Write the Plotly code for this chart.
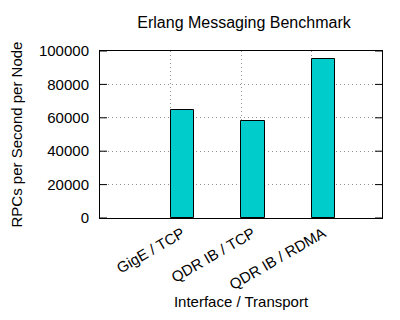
import plotly.graph_objects as go

categories = ["GigE / TCP", "QDR IB / TCP", "QDR IB / RDMA"]
slots = [1, 2, 3]
rpcs = [64700, 58300, 95200]
y_ticks = [0, 20000, 40000, 60000, 80000, 100000]

bar_w = 1 / 3
label_pos = [s + bar_w / 2 for s in slots]

FONT = "Liberation Sans, Arial, sans-serif"
GRID = "#909090"
TF = dict(family=FONT, size=15, color="black")
X_RANGE = [0, 4]
PLOT_W = 282
TICK_LEN = 7

fig = go.Figure()
fig.add_trace(go.Bar(
    x=slots, y=rpcs, width=bar_w, offset=0,
    marker=dict(color="#00cccc", line=dict(color="black", width=1)),
    xaxis="x", yaxis="y", showlegend=False,
))
fig.add_trace(go.Scatter(x=[None], y=[None], xaxis="x2", yaxis="y", showlegend=False))

# inward tick marks on left and right frame edges (gnuplot style)
tl = TICK_LEN / PLOT_W * (X_RANGE[1] - X_RANGE[0])
tx, ty = [], []
for v in y_ticks:
    tx += [X_RANGE[0], X_RANGE[0] + tl, None, X_RANGE[1] - tl, X_RANGE[1], None]
    ty += [v, v, None, v, v, None]
fig.add_trace(go.Scatter(x=tx, y=ty, mode="lines", line=dict(color="black", width=1),
                         hoverinfo="skip", showlegend=False, cliponaxis=False))

fig.update_layout(
    width=400, height=320,
    margin=dict(l=100, r=18, t=51, b=102),
    paper_bgcolor="white", plot_bgcolor="white",
    font=TF,
    title=dict(text="Erlang Messaging Benchmark", x=244 / 400, xanchor="center",
               y=1 - 22 / 320, yanchor="middle",
               font=dict(family=FONT, size=16, color="black")),
    xaxis=dict(range=X_RANGE, tickvals=label_pos, ticktext=categories,
               tickangle=-30, showgrid=False, ticks="", automargin=False,
               tickfont=TF,
               showline=True, linecolor="black", linewidth=1, mirror=True,
               title=dict(text="Interface / Transport", standoff=4, font=TF),
               zeroline=False),
    xaxis2=dict(range=X_RANGE, overlaying="x", tickvals=slots, showticklabels=False,
                showgrid=True, gridcolor=GRID, griddash="1px,3px", gridwidth=1,
                ticks="", showline=False, zeroline=False, automargin=False),
    yaxis=dict(range=[0, 100000], tickvals=y_ticks, ticks="",
               showline=True, linecolor="black", linewidth=1,
               mirror=True, showgrid=True, gridcolor=GRID, griddash="1px,3px",
               zeroline=False, tickformat="d", automargin=False,
               ticklabelstandoff=7,
               tickfont=TF,
               title=dict(text="RPCs per Second per Node", standoff=12, font=TF)),
    bargap=0,
)

fig.write_html("out.html")
